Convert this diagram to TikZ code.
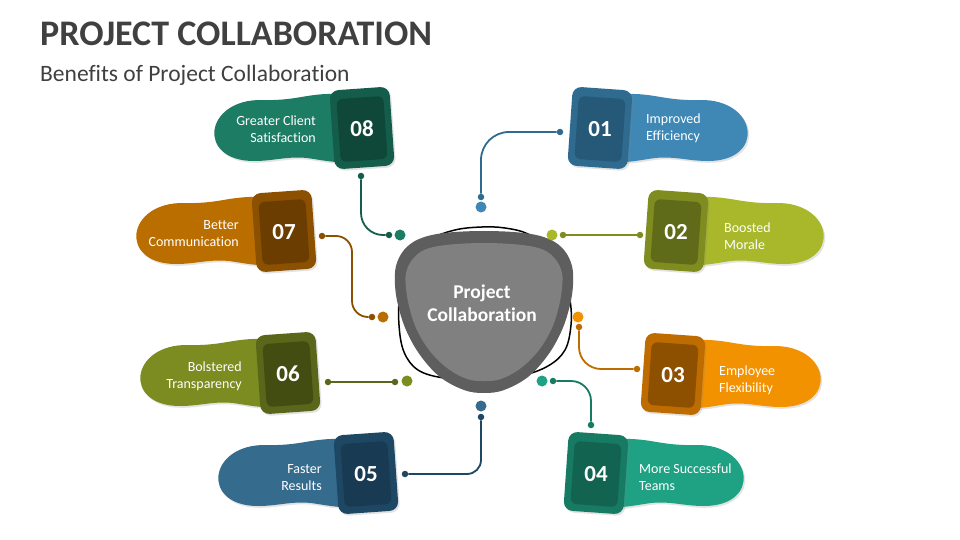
\documentclass[tikz,border=0pt]{standalone}
\usepackage{fontspec}
\setmainfont{Carlito}[Ligatures=NoCommon]
\usetikzlibrary{shadows}

\definecolor{titlecol}{HTML}{404040}
\definecolor{cout}{HTML}{5E5E5E}
\definecolor{cin}{HTML}{808080}
\definecolor{c1b}{HTML}{3F88B5}\definecolor{c1x}{HTML}{2F6B8F}\definecolor{c1i}{HTML}{265878}
\definecolor{c2b}{HTML}{A8B82A}\definecolor{c2x}{HTML}{7F8C20}\definecolor{c2i}{HTML}{5F6B18}
\definecolor{c3b}{HTML}{F39200}\definecolor{c3x}{HTML}{BE6C00}\definecolor{c3i}{HTML}{8C5000}
\definecolor{c4b}{HTML}{1FA183}\definecolor{c4x}{HTML}{177A62}\definecolor{c4i}{HTML}{126350}
\definecolor{c5b}{HTML}{356C8E}\definecolor{c5x}{HTML}{1E4763}\definecolor{c5i}{HTML}{183A52}
\definecolor{c6b}{HTML}{7C8C20}\definecolor{c6x}{HTML}{5A671A}\definecolor{c6i}{HTML}{434D12}
\definecolor{c7b}{HTML}{BB6E00}\definecolor{c7x}{HTML}{8B5000}\definecolor{c7i}{HTML}{6B3D00}
\definecolor{c8b}{HTML}{1D7D64}\definecolor{c8x}{HTML}{135D4A}\definecolor{c8i}{HTML}{0F4739}

\tikzset{
  softshadow/.style={drop shadow={opacity=0.22, shadow xshift=1.5pt, shadow yshift=-1.8pt}},
  blob/.pic={
    \fill[#1, softshadow] (0,-34) -- (25,-34) .. controls (55,-35) and (65,-27) .. (100,-28)
      .. controls (158,-29) and (166,33) .. (108,33)
      .. controls (88,33) and (75,28) .. (55,30)
      .. controls (40,32) and (30,35) .. (0,35) -- cycle;
  },
  numbox/.style={rounded corners=9pt, minimum width=60pt, minimum height=79pt, inner sep=0pt, draw=none, softshadow},
  innerbox/.style={rounded corners=6pt, minimum width=47pt, minimum height=63pt, inner sep=0pt, draw=none},
  numtxt/.style={text=white, font=\fontsize{23}{23}\selectfont\bfseries, inner sep=0pt},
  lbl/.style={text=white, font=\fontsize{14}{17}\selectfont, inner sep=0pt},
  bigdot/.style={circle, minimum size=11pt, inner sep=0pt},
  smalldot/.style={circle, minimum size=6.5pt, inner sep=0pt},
  conn/.style={line width=1.8pt},
}

\newcommand\cardR[9]{%
  \path (#2,#3) pic {blob=#4};
  \node[numbox, fill=#5, rotate=-4] (box#1) at (#2,#3) {};
  \node[innerbox, fill=#6, rotate=-4] (in#1) at (#2,#3+1) {};
  \node[numtxt] (num#1) at (#2,#3+1) {#7};
  \node[lbl, anchor=west, align=left] (lbl#1) at #9 {#8};
}
\newcommand\cardL[9]{%
  \path (#2,#3) pic[xscale=-1] {blob=#4};
  \node[numbox, fill=#5, rotate=4] (box#1) at (#2,#3) {};
  \node[innerbox, fill=#6, rotate=4] (in#1) at (#2,#3+1) {};
  \node[numtxt] (num#1) at (#2,#3+1) {#7};
  \node[lbl, anchor=east, align=right] (lbl#1) at #9 {#8};
}

\begin{document}
\begin{tikzpicture}[x=1pt,y=-1pt]
\useasboundingbox (0,0) rectangle (960,540);
\fill[white] (0,0) rectangle (960,540);

% titles
\node[anchor=base west, inner sep=0pt, text=titlecol, font=\fontsize{36}{36}\selectfont\bfseries] (title) at (40,46) {PROJECT COLLABORATION};
\node[anchor=base west, inner sep=0pt, text=titlecol, font=\fontsize{23.5}{24}\selectfont] (subtitle) at (40,82) {Benefits of Project Collaboration};

% center shape
\draw[line width=1.5pt, black] plot[smooth cycle, tension=0.6] coordinates {
  (482,227) (505,228) (528,234) (550,250) (563,272) (570,300) (571,325) (565,350)
  (548,366) (520,376) (482,380) (444,378) (418,370) (404,352) (399,325) (400,295)
  (410,262) (430,240) (455,230)};
\fill[cout] plot[smooth cycle, tension=0.6] coordinates {
  (484,231) (524,233) (549,239) (564,250) (572,266) (573,285) (570,305) (562,330)
  (548,355) (528,377) (504,390) (484,393) (464,390) (440,377) (420,355) (406,330)
  (398,305) (395,285) (396,266) (404,250) (419,239) (444,233)};
\fill[cin] plot[smooth cycle, tension=0.6] coordinates {
  (484,243) (522,245) (544,250) (556,260) (562,273) (562,288) (559,306) (552,328)
  (539,350) (521,368) (501,379) (484,381) (467,379) (447,368) (429,350) (416,328)
  (409,306) (406,288) (406,273) (412,260) (424,250) (446,245)};
\node[text=white, align=center, font=\fontsize{19.5}{23}\selectfont\bfseries] (center) at (482,303) {Project\\Collaboration};

% cards
\cardR{1}{600}{128}{c1b}{c1x}{c1i}{01}{Improved\\Efficiency}{(646,128)}
\cardR{2}{676}{231}{c2b}{c2x}{c2i}{02}{Boosted\\Morale}{(724,236)}
\cardR{3}{673}{374}{c3b}{c3x}{c3i}{03}{Employee\\Flexibility}{(719,380)}
\cardR{4}{596}{473}{c4b}{c4x}{c4i}{04}{More Successful\\Teams}{(639,477)}
\cardL{5}{366}{473}{c5b}{c5x}{c5i}{05}{Faster\\Results}{(322,478)}
\cardL{6}{288}{373}{c6b}{c6x}{c6i}{06}{Bolstered\\Transparency}{(242,376)}
\cardL{7}{284}{231}{c7b}{c7x}{c7i}{07}{Better\\Communication}{(239,234)}
\cardL{8}{362}{128}{c8b}{c8x}{c8i}{08}{Greater Client\\Satisfaction}{(316,129)}

% dots
\node[bigdot, fill=c1b] (bd1) at (481,207) {};
\node[smalldot, fill=c1x] (sa1) at (481,197) {};
\node[smalldot, fill=c1x] (sb1) at (560,132) {};
\node[bigdot, fill=c2b] (bd2) at (552,235) {};
\node[smalldot, fill=c2x] (sa2) at (563,235) {};
\node[smalldot, fill=c2x] (sb2) at (640,235) {};
\node[bigdot, fill=c3b] (bd3) at (578,317) {};
\node[smalldot, fill=c3x] (sa3) at (579,327) {};
\node[smalldot, fill=c3x] (sb3) at (637,369) {};
\node[bigdot, fill=c4b] (bd4) at (542,381) {};
\node[smalldot, fill=c4x] (sa4) at (553,381) {};
\node[smalldot, fill=c4x] (sb4) at (591,425) {};
\node[bigdot, fill=c5b] (bd5) at (481,406) {};
\node[smalldot, fill=c5x] (sa5) at (481,417) {};
\node[smalldot, fill=c5x] (sb5) at (405,474) {};
\node[bigdot, fill=c6b] (bd6) at (407,381) {};
\node[smalldot, fill=c6x] (sa6) at (395,382) {};
\node[smalldot, fill=c6x] (sb6) at (328,382) {};
\node[bigdot, fill=c7b] (bd7) at (383,317) {};
\node[smalldot, fill=c7x] (sa7) at (372,317) {};
\node[smalldot, fill=c7x] (sb7) at (322,236) {};
\coordinate (j7) at (352,276);
\node[bigdot, fill=c8b] (bd8) at (400,235) {};
\node[smalldot, fill=c8x] (sa8) at (389,235) {};
\node[smalldot, fill=c8x] (sb8) at (361,176) {};

% connectors
\draw[conn, c1x, rounded corners=28pt] (sa1) |- (sb1);
\draw[conn, c2x] (sa2) -- (sb2);
\draw[conn, c3x, rounded corners=22pt] (sa3) |- (sb3);
\draw[conn, c4x, rounded corners=20pt] (sa4) -| (sb4);
\draw[conn, c5x, rounded corners=14pt] (sa5) |- (sb5);
\draw[conn, c6x] (sa6) -- (sb6);
\draw[conn, c7x, rounded corners=16pt] (sa7) -| (j7) |- (sb7);
\draw[conn, c8x, rounded corners=22pt] (sa8) -| (sb8);
\end{tikzpicture}
\end{document}
